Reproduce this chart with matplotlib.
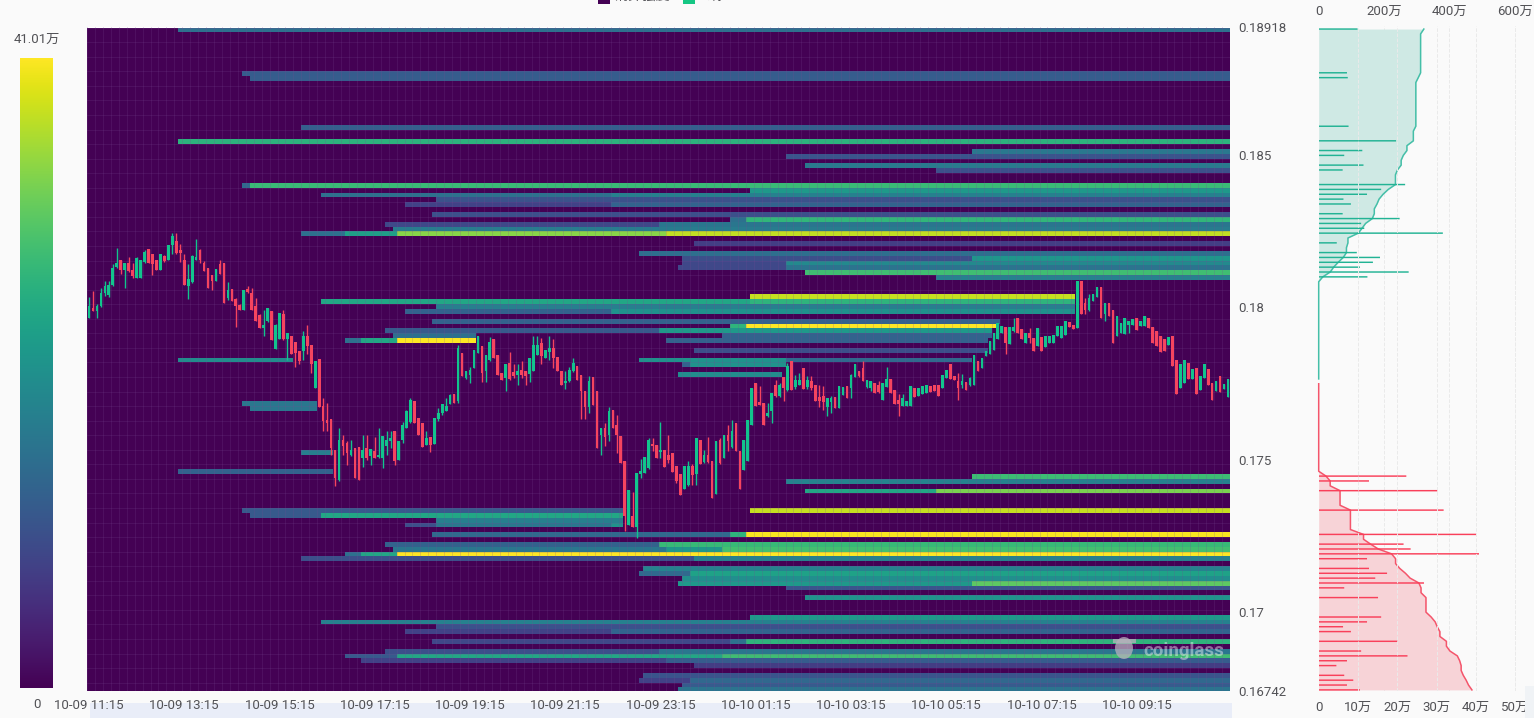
import matplotlib
matplotlib.use('Agg')
import matplotlib.pyplot as plt
import numpy as np
import pandas as pd
from matplotlib.colors import FuncNorm
from matplotlib.patches import Ellipse, Rectangle

plt.rcParams['font.family'] = ['Roboto', 'Noto Sans CJK SC', 'DejaVu Sans']

W, H = 1534, 718

# 5 minute candles, price x 1e5
candle_open = [
    17965,17998,17987,18003,18047,18041,18074,18132,18153,18123,18145,18123,
    18094,18094,18149,18192,18175,18156,18123,18167,18153,18205,18216,18186,
    18156,18069,18083,18153,18186,18145,18129,18105,18087,18140,18145,18031,
    18058,18025,18006,17992,18058,18047,18003,17974,17930,17954,17987,17864,
    17894,17976,17894,17905,17886,17856,17856,17905,17875,17735,17830,17675,
    17629,17632,17533,17435,17566,17555,17517,17539,17541,17504,17539,17513,
    17528,17508,17506,17544,17560,17593,17500,17566,17604,17624,17692,17637,
    17621,17549,17574,17552,17632,17653,17661,17681,17716,17692,17850,17768,
    17779,17801,17850,17872,17790,17828,17894,17844,17784,17768,17817,17788,
    17779,17795,17790,17781,17790,17844,17883,17834,17853,17866,17836,17790,
    17751,17757,17790,17806,17776,17726,17672,17770,17724,17582,17604,17582,
    17664,17615,17577,17495,17287,17314,17281,17453,17456,17473,17551,17549,
    17525,17533,17516,17522,17480,17454,17405,17416,17478,17453,17566,17492,
    17516,17495,17387,17566,17506,17580,17542,17620,17527,17467,17495,17613,
    17751,17689,17686,17642,17661,17746,17708,17770,17730,17823,17737,17746,
    17801,17737,17757,17746,17705,17708,17672,17689,17705,17670,17713,17741,
    17735,17770,17790,17799,17737,17735,17751,17746,17697,17738,17766,17727,
    17697,17675,17675,17675,17736,17708,17714,17719,17741,17744,17746,17736,
    17768,17812,17774,17757,17744,17755,17744,17746,17823,17801,17839,17845,
    17861,17894,17916,17936,17880,17921,17963,17927,17883,17916,17900,17872,
    17902,17869,17883,17883,17905,17900,17908,17951,17943,17932,18085,18014,
    17992,18020,18033,18066,17978,18014,17992,17905,17916,17913,17943,17943,
    17965,17938,17938,17965,17935,17921,17905,17894,17875,17905,17828,17735,
    17752,17818,17766,17801,17730,17768,17796,17752,17725,17774,17733,17705]
candle_close = [
    18003,17987,18003,18047,18069,18074,18129,18145,18123,18145,18120,18102,
    18162,18156,18181,18145,18140,18123,18175,18151,18205,18233,18178,18178,
    18074,18091,18167,18164,18153,18120,18063,18085,18126,18107,18014,18055,
    18020,18003,17992,18056,18050,17992,17954,17932,17943,17996,17891,17943,
    17981,17894,17916,17847,17850,17825,17905,17872,17812,17823,17672,17626,
    17620,17539,17440,17566,17544,17522,17533,17440,17435,17533,17504,17535,
    17504,17517,17577,17566,17571,17495,17560,17615,17659,17697,17621,17582,
    17541,17571,17549,17637,17653,17681,17675,17713,17686,17867,17774,17790,
    17795,17861,17905,17784,17844,17886,17834,17779,17762,17814,17766,17773,
    17792,17779,17773,17834,17877,17877,17839,17861,17866,17834,17790,17744,
    17759,17795,17817,17762,17724,17672,17757,17680,17538,17604,17573,17659,
    17604,17582,17489,17314,17402,17281,17456,17464,17508,17566,17544,17505,
    17533,17475,17500,17460,17429,17385,17478,17478,17451,17571,17486,17516,
    17492,17374,17562,17489,17580,17562,17593,17527,17405,17566,17631,17735,
    17675,17678,17615,17653,17719,17708,17746,17735,17806,17730,17762,17762,
    17733,17762,17735,17694,17691,17689,17702,17702,17670,17741,17737,17702,
    17779,17812,17773,17757,17762,17757,17719,17722,17752,17766,17719,17681,
    17683,17701,17692,17741,17705,17736,17741,17744,17722,17725,17708,17779,
    17795,17763,17760,17736,17757,17730,17768,17843,17792,17834,17856,17889,
    17916,17949,17938,17883,17935,17935,17916,17894,17916,17900,17856,17932,
    17856,17905,17905,17908,17938,17938,17956,17935,17927,18085,17976,17992,
    18029,18042,18066,17965,18014,17970,17883,17970,17949,17965,17954,17960,
    17924,17956,17971,17932,17883,17872,17854,17856,17902,17807,17714,17812,
    17828,17766,17796,17714,17774,17812,17744,17697,17757,17722,17749,17766]
candle_high = [
    18033,18052,18009,18063,18085,18085,18142,18195,18156,18145,18164,18145,
    18164,18156,18186,18192,18175,18156,18175,18170,18205,18244,18244,18208,
    18173,18140,18170,18222,18189,18150,18129,18105,18126,18153,18145,18083,
    18058,18031,18010,18056,18069,18063,18031,17976,17992,17998,17987,17945,
    17981,17992,17916,17905,17886,17856,17921,17943,17875,17823,17830,17703,
    17686,17632,17533,17604,17582,17560,17563,17539,17541,17582,17582,17535,
    17574,17604,17577,17593,17593,17593,17560,17624,17664,17703,17692,17637,
    17621,17593,17574,17637,17670,17681,17703,17716,17716,17875,17850,17790,
    17804,17861,17905,17872,17844,17901,17894,17844,17784,17814,17853,17812,
    17814,17823,17792,17834,17905,17905,17899,17861,17905,17897,17836,17790,
    17790,17803,17834,17806,17776,17726,17773,17770,17724,17604,17620,17672,
    17664,17648,17577,17495,17402,17394,17456,17503,17508,17571,17571,17549,
    17624,17533,17582,17522,17480,17454,17478,17495,17486,17571,17566,17533,
    17573,17495,17562,17571,17580,17613,17631,17620,17527,17566,17631,17735,
    17751,17741,17686,17686,17719,17762,17751,17770,17817,17823,17779,17784,
    17801,17773,17773,17746,17746,17741,17702,17708,17705,17741,17737,17741,
    17781,17812,17792,17823,17762,17757,17751,17757,17752,17803,17766,17727,
    17714,17714,17692,17741,17736,17736,17741,17744,17741,17744,17746,17779,
    17795,17812,17774,17785,17781,17755,17771,17843,17823,17834,17856,17889,
    17916,17949,17938,17936,17935,17965,17963,17927,17916,17932,17900,17932,
    17902,17905,17905,17908,17938,17938,17956,17951,17943,18085,18085,18031,
    18042,18042,18066,18066,18014,18014,17992,17970,17949,17965,17954,17960,
    17965,17956,17971,17965,17935,17921,17905,17894,17902,17905,17828,17812,
    17828,17818,17796,17801,17774,17812,17796,17752,17757,17774,17749,17766]
candle_low = [
    17963,17987,17965,18000,18036,18033,18069,18129,18107,18063,18116,18096,
    18094,18094,18145,18145,18105,18123,18123,18148,18153,18173,18175,18149,
    18074,18025,18080,18153,18145,18118,18063,18055,18085,18107,18014,18022,
    18020,17934,17990,17992,18047,17992,17954,17930,17905,17952,17891,17864,
    17894,17891,17828,17847,17803,17812,17828,17845,17785,17735,17672,17593,
    17593,17517,17413,17429,17517,17484,17511,17440,17435,17475,17500,17484,
    17504,17506,17473,17517,17539,17484,17500,17555,17604,17621,17621,17582,
    17541,17547,17525,17552,17628,17648,17659,17681,17686,17686,17774,17766,
    17752,17801,17850,17756,17755,17825,17834,17779,17762,17724,17762,17768,
    17744,17768,17746,17755,17790,17842,17812,17834,17828,17801,17790,17744,
    17733,17755,17788,17762,17635,17635,17653,17680,17538,17514,17544,17560,
    17604,17522,17489,17265,17287,17281,17243,17440,17456,17471,17527,17505,
    17506,17475,17489,17460,17424,17385,17405,17413,17416,17416,17486,17489,
    17489,17374,17387,17486,17506,17527,17538,17527,17405,17467,17495,17613,
    17675,17678,17615,17639,17620,17705,17705,17694,17724,17730,17733,17744,
    17733,17733,17730,17694,17672,17664,17642,17653,17670,17670,17713,17702,
    17702,17770,17770,17757,17735,17724,17719,17719,17697,17738,17719,17681,
    17643,17675,17675,17675,17705,17708,17714,17719,17722,17725,17708,17736,
    17768,17763,17760,17697,17736,17730,17741,17746,17792,17801,17839,17845,
    17861,17894,17916,17845,17880,17919,17916,17894,17883,17883,17856,17872,
    17856,17869,17883,17883,17905,17900,17908,17935,17927,17932,17976,17976,
    17987,18020,18033,17965,17954,17970,17883,17905,17916,17913,17916,17943,
    17924,17938,17938,17932,17883,17872,17854,17856,17875,17807,17714,17735,
    17752,17766,17766,17714,17730,17768,17744,17697,17725,17722,17733,17705]

# liquidation levels: price bin, first candle, strength in 万 (0 = level gone)
seg_row = [0, 9, 10, 20, 23, 25, 26, 28, 29, 32, 32, 33, 34, 34, 35, 36, 36, 38,
           39, 39, 40, 40, 41, 42, 42, 42, 42, 44, 46, 47, 47, 48, 48, 49, 49, 50, 51,
           55, 55, 56, 56, 56, 57, 57, 58, 58, 58, 60, 60, 61, 61, 61, 62, 62, 62,
           63, 63, 63, 63, 64, 64, 64, 64, 64, 64, 66, 66,
           68, 68, 68, 68, 68, 69, 69, 69, 71, 71, 77, 77, 78, 78, 87, 87, 91, 91,
           92, 93, 95, 95, 99, 99, 99, 100, 100, 100, 101, 101, 102, 102, 102, 102,
           104, 104, 104, 106, 106, 107, 107, 107, 108, 108, 108, 109, 109, 111,
           112, 112, 113, 114, 114, 115, 117, 121, 122, 123, 124, 124, 126, 126, 126,
           128, 128, 129, 129, 129, 130, 130, 131, 133, 134, 134, 135, 136]
seg_start = [23, 39, 41, 54, 23, 223, 176, 181, 214, 39, 41, 167, 59, 132, 88, 80, 132, 87,
             162, 166, 75, 144, 77, 54, 65, 78, 146, 153, 139, 150, 223, 150, 176, 149, 176, 181, 214,
             167, 249, 59, 167, 249, 88, 249, 80, 132, 249, 87, 230, 162, 166, 229, 75, 144, 228,
             77, 98, 160, 228, 65, 69, 78, 98, 146, 227, 153, 227,
             23, 52, 139, 176, 223, 150, 152, 176, 149, 175, 39, 58, 41, 58, 54, 62, 23, 62,
             223, 176, 181, 214, 39, 135, 167, 41, 59, 135, 88, 135, 80, 88, 132, 135,
             87, 162, 166, 75, 144, 77, 146, 160, 65, 69, 78, 54, 153, 140,
             139, 152, 150, 149, 223, 176, 181, 167, 59, 88, 80, 132, 87, 162, 166,
             75, 144, 65, 78, 160, 69, 146, 153, 140, 139, 152, 150, 149]
seg_value = [9.9, 7.2, 7.4, 7.6, 19.7, 11.1, 6.5, 11.4, 6.1, 9, 22.0, 15.9, 10, 12.3, 6.3, 5, 8.2, 6.1,
             10, 20.6, 5.5, 10.8, 11.6, 10, 17, 30.5, 31.6, 4.6, 9.7, 6, 15.6, 5.5, 13.8, 5.5, 10.5, 22.9, 12.4,
             32, 0, 18, 20, 0, 12, 0, 8, 15, 0, 8, 0, 20, 41, 0, 7, 16, 0,
             10, 0, 8, 0, 10, 18, 41, 0, 8, 0, 6, 0,
             14, 0, 15, 9, 0, 8, 15, 0, 14, 0, 11, 0, 11, 0, 12, 0, 8, 0,
             22.3, 12.8, 18, 30.2, 7, 0, 31.8, 7, 18, 0, 12, 0, 6, 11, 15, 0,
             9, 20, 40.1, 8, 21.6, 11, 16, 23.4, 10, 18, 40.8, 6, 12.3, 12.8,
             9, 17.4, 14.4, 16, 26.8, 6.5, 15.1, 15.9, 12.3, 6.2, 5, 8.2, 5.5, 10, 20,
             6, 10.8, 7, 18, 22.6, 5, 7.2, 4.5, 6.5, 5, 8.8, 7.2, 10.5]

time_labels = ['10-09 11:15', '10-09 13:15', '10-09 15:15', '10-09 17:15', '10-09 19:15', '10-09 21:15',
               '10-09 23:15', '10-10 01:15', '10-10 03:15', '10-10 05:15', '10-10 07:15', '10-10 09:15']
price_ticks = [0.18918, 0.185, 0.18, 0.175, 0.17, 0.16742]
price_labels = ['0.18918', '0.185', '0.18', '0.175', '0.17', '0.16742']
bar_ticks = [0, 10, 20, 30, 40, 50]
bar_labels = ['0', '10万', '20万', '30万', '40万', '50万']
cum_ticks = [0, 200, 400, 600]
cum_labels = ['0', '200万', '400万', '600万']

norm_values = [0, 7.3, 10, 20, 26.8, 30.2, 31.6, 41.01]
norm_colors = [0, 0.29, 0.37, 0.65, 0.75, 0.80, 0.91, 1]

TOP_PRICE = 0.18908
BIN = 0.000159
N_ROWS = 137
TEXT = '#525256'
UP = '#12c48d'
DOWN = '#f5445f'


def box(x0, y0, x1, y1):
    # pixel box (y from top) to figure fractions
    return [x0 / W, 1 - y1 / H, (x1 - x0) / W, (y1 - y0) / H]


candles = pd.DataFrame({'open': candle_open, 'close': candle_close,
                        'high': candle_high, 'low': candle_low}) / 1e5
n = len(candles)
x = np.arange(n) + 0.5

heat = np.zeros((N_ROWS, n))
for r, s, v in zip(seg_row, seg_start, seg_value):
    heat[r, s:] = v

row_price = TOP_PRICE - np.arange(N_ROWS) * BIN
edges = TOP_PRICE + BIN / 2 - np.arange(N_ROWS + 1) * BIN

fig = plt.figure(figsize=(W / 100, H / 100), dpi=100, facecolor='#fafafa')

# bottom band and corner box of the page
fig.add_artist(Rectangle((90 / W, 0), 1142 / W, 15 / H, transform=fig.transFigure,
                         color='#e9edf8', lw=0, zorder=-1))
fig.add_artist(Rectangle((1525 / W, 0), 9 / W, 32 / H, transform=fig.transFigure,
                         color='#f0f3f6', lw=0, zorder=5))

# heatmap with candles
norm = FuncNorm((lambda v: np.interp(v, norm_values, norm_colors),
                 lambda c: np.interp(c, norm_colors, norm_values)), vmin=0, vmax=41.01)
ax = fig.add_axes(box(87, 27, 1230, 691))
ax.pcolormesh(np.arange(n + 1), edges, heat, cmap='viridis', norm=norm, zorder=1)
ax.set_xlim(0, n)
ax.set_ylim(0.16742, 0.18918)
ax.set_xticks(x[::24])
ax.set_xticklabels(time_labels, fontsize=9.5, color=TEXT)
ax.set_xticks(np.arange(0, n, 2), minor=True)
ax.yaxis.tick_right()
ax.set_yticks(price_ticks)
ax.set_yticklabels(price_labels, fontsize=9.5, color=TEXT)
ax.set_yticks(edges[::3], minor=True)
ax.tick_params(which='both', length=0)
ax.tick_params(axis='x', pad=6)
ax.tick_params(axis='y', pad=6)
ax.grid(which='minor', color='#7a4a96', alpha=0.2, lw=0.7)
for s in ax.spines.values():
    s.set_visible(False)

colors = np.where(candles['close'] >= candles['open'], UP, DOWN)
ax.vlines(x, candles['low'], candles['high'], colors=colors, lw=1.0, zorder=3)
ax.bar(x, (candles['close'] - candles['open']).abs(), bottom=candles[['open', 'close']].min(axis=1),
       width=0.68, color=colors, lw=0, zorder=4)

# watermark
ax.text(1143 / W, 1 - 651 / H, 'coinglass', transform=fig.transFigure, color='white', alpha=0.42,
        fontsize=13.5, fontweight='bold', va='center', zorder=6)
fig.add_artist(Ellipse((1124 / W, 1 - 648 / H), 18 / W, 22 / H, transform=fig.transFigure,
                       color='#b8b0bd', alpha=0.75, lw=0, zorder=6))
fig.add_artist(Rectangle((1113 / W, 1 - 643 / H), 23 / W, 4 / H, transform=fig.transFigure,
                         color='#b8b0bd', alpha=0.75, lw=0, zorder=6))

# colour bar
ax_bar = fig.add_axes(box(20, 58, 53, 688))
ax_bar.imshow(np.linspace(1, 0, 256).reshape(-1, 1), cmap='viridis', aspect='auto')
ax_bar.axis('off')
fig.text(36.5 / W, 1 - 39 / H, '41.01万', ha='center', va='center', fontsize=9.5, color=TEXT)
fig.text(36.5 / W, 1 - 704 / H, '0', ha='center', va='center', fontsize=9.5, color=TEXT)

# legend, cut off by the top edge as in the screenshot
fig.add_artist(Rectangle((598 / W, 1 - 4 / H), 12 / W, 12 / H, transform=fig.transFigure,
                         color='#440154', lw=0))
fig.add_artist(Rectangle((683 / W, 1 - 4 / H), 12 / W, 12 / H, transform=fig.transFigure,
                         color='#16c784', lw=0))
fig.text(615 / W, 1 - 3 / H, '清算强度', fontsize=10, color=TEXT, va='bottom')
fig.text(700 / W, 1 - 3 / H, 'K线', fontsize=10, color=TEXT, va='bottom')

# depth panel: single levels on the lower scale, running sums on the upper one
last = heat[:, -1]
ask = np.arange(N_ROWS) <= 72
bid = ~ask
ask_cum = np.cumsum(last[ask][::-1])[::-1]
bid_cum = np.cumsum(last[bid])

ax_depth = fig.add_axes(box(1318.7, 26, 1534, 691))
ax_depth.set_xlim(0, 54.8)
ax_depth.set_ylim(0.16742, 0.18918)
ax_cum = ax_depth.twiny()
ax_cum.set_xlim(0, 659)
ax_depth.set_zorder(2)
ax_depth.patch.set_visible(False)
ax_cum.set_facecolor('#fafafa')

ax_cum.fill_betweenx(row_price[ask], 0, ask_cum, color='#cfe9e4', lw=0)
ax_cum.fill_betweenx(row_price[bid], 0, bid_cum, color='#f7d3d7', lw=0)
ax_cum.plot(ask_cum, row_price[ask], color='#45bfa8', lw=1.1, clip_on=False)
ax_cum.plot(bid_cum, row_price[bid], color='#f4556b', lw=1.1, clip_on=False)

ask_bars = ax_depth.barh(row_price[ask], last[ask], height=BIN * 0.3, color='#22b394', lw=0)
bid_bars = ax_depth.barh(row_price[bid], last[bid], height=BIN * 0.3, color='#f9405a', lw=0)
for b in list(ask_bars) + list(bid_bars):
    b.set_snap(False)

ax_depth.set_xticks(bar_ticks)
ax_depth.set_xticklabels(bar_labels, fontsize=9.5, color=TEXT)
ax_depth.set_yticks([])
ax_cum.set_xticks(cum_ticks)
ax_cum.set_xticklabels(cum_labels, fontsize=9.5, color=TEXT)
ax_depth.tick_params(length=0, pad=7)
ax_cum.tick_params(length=0, pad=6)
ax_depth.grid(axis='x', color='#eaeaea', ls='--', lw=0.7)
ax_cum.grid(axis='x', color='#eaeaea', ls='--', lw=0.7)
ax_depth.xaxis.get_gridlines()[0].set_visible(False)
ax_cum.xaxis.get_gridlines()[0].set_visible(False)
ax_cum.set_axisbelow(True)
for a in (ax_depth, ax_cum):
    for s in a.spines.values():
        s.set_visible(False)

fig.savefig('out.png', dpi=100, facecolor=fig.get_facecolor())
